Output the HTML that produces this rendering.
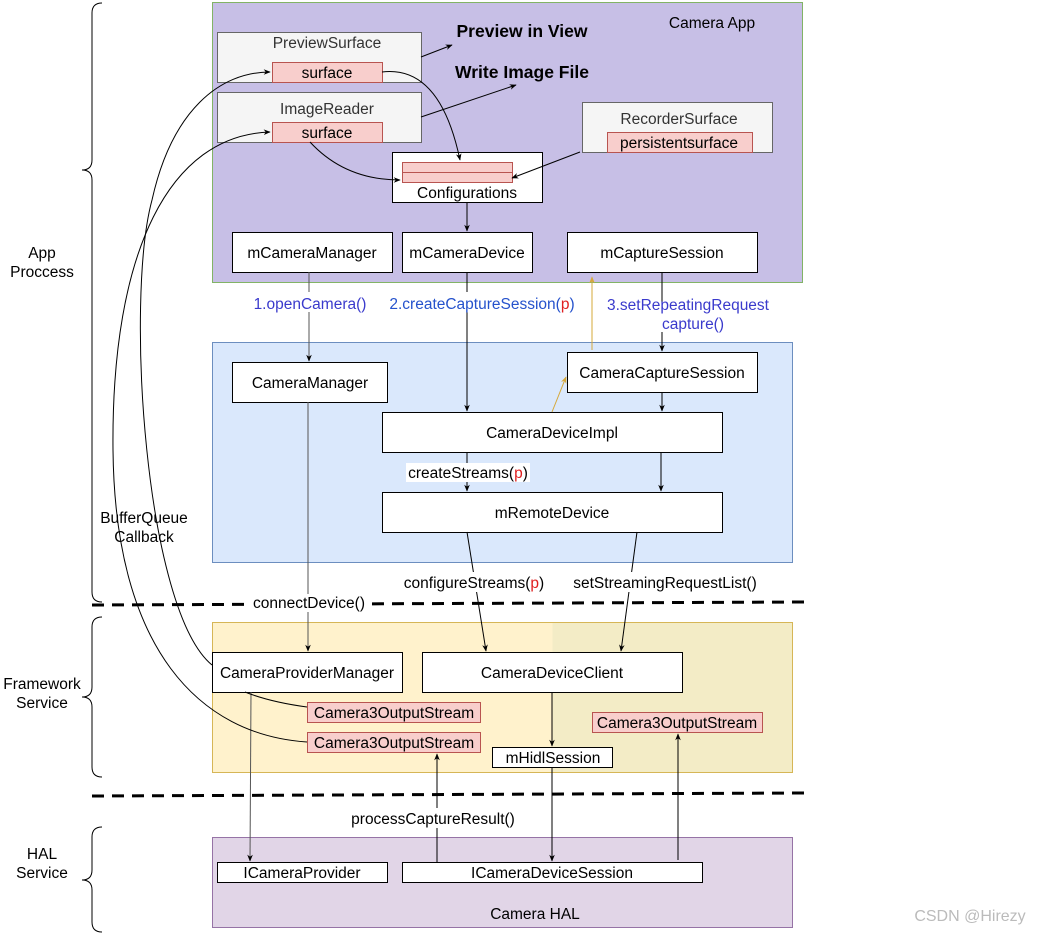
<!DOCTYPE html>
<html><head><meta charset="utf-8"><style>
html,body{margin:0;padding:0;background:#fff;}
svg{display:block;font-family:"Liberation Sans",Arial,sans-serif;}
</style></head><body>
<svg width="1037" height="935" viewBox="0 0 1037 935" xmlns="http://www.w3.org/2000/svg">
<defs>
<marker id="a" viewBox="0 0 10 10" refX="9" refY="5" markerWidth="7" markerHeight="7" orient="auto"><path d="M0,1 L10,5 L0,9 L3,5 z" fill="#000"/></marker>
<marker id="y" viewBox="0 0 10 10" refX="9" refY="5" markerWidth="7" markerHeight="7" orient="auto"><path d="M0,1 L10,5 L0,9 L3,5 z" fill="#d6a83a"/></marker>
</defs>
<g font-size="15.5" text-anchor="middle">
<rect x="212.5" y="2.5" width="590" height="280" fill="#c7bfe6" stroke="#82b366"/>
<text x="712" y="28" fill="#000">Camera App</text>
<rect x="217.5" y="32.5" width="204" height="50" fill="#f5f5f5" stroke="#666"/>
<text x="327" y="48" fill="#333">PreviewSurface</text>
<rect x="272.5" y="62.5" width="110" height="20" fill="#f8cecc" stroke="#b85450"/>
<text x="327" y="78">surface</text>
<rect x="217.5" y="92.5" width="204" height="50" fill="#f5f5f5" stroke="#666"/>
<text x="327" y="114" fill="#333">ImageReader</text>
<rect x="272.5" y="122.5" width="110" height="20" fill="#f8cecc" stroke="#b85450"/>
<text x="327" y="138">surface</text>
<rect x="582.5" y="102.5" width="190" height="50" fill="#f5f5f5" stroke="#666"/>
<text x="679" y="124" fill="#333">RecorderSurface</text>
<rect x="607.5" y="132.5" width="145" height="20" fill="#f8cecc" stroke="#b85450"/>
<text x="679" y="148">persistentsurface</text>
<text x="522" y="37" font-weight="bold" font-size="17.5">Preview in View</text>
<text x="522" y="78" font-weight="bold" font-size="17.5">Write Image File</text>
<rect x="392.5" y="152.5" width="150" height="50" fill="#fff" stroke="#000"/>
<rect x="402.5" y="162.5" width="110" height="10" fill="#f8cecc" stroke="#b85450"/>
<rect x="402.5" y="172.5" width="110" height="10" fill="#f8cecc" stroke="#b85450"/>
<text x="467" y="198">Configurations</text>
<rect x="232.5" y="232.5" width="160" height="40" fill="#fff" stroke="#000"/>
<text x="312" y="258">mCameraManager</text>
<rect x="402.5" y="232.5" width="130" height="40" fill="#fff" stroke="#000"/>
<text x="467" y="258">mCameraDevice</text>
<rect x="567.5" y="232.5" width="190" height="40" fill="#fff" stroke="#000"/>
<text x="662" y="258">mCaptureSession</text>

<rect x="212.5" y="342.5" width="580" height="220" fill="#dae8fc" stroke="#6c8ebf"/>
<rect x="232.5" y="362.5" width="155" height="40" fill="#fff" stroke="#000"/>
<text x="310" y="388">CameraManager</text>
<rect x="567.5" y="352.5" width="190" height="40" fill="#fff" stroke="#000"/>
<text x="662" y="378">CameraCaptureSession</text>
<rect x="382.5" y="412.5" width="340" height="40" fill="#fff" stroke="#000"/>
<text x="552" y="438">CameraDeviceImpl</text>
<rect x="382.5" y="492.5" width="340" height="40" fill="#fff" stroke="#000"/>
<text x="552" y="518">mRemoteDevice</text>

<rect x="212.5" y="622.5" width="340" height="150" fill="#fff2cc" stroke="none"/>
<rect x="552.5" y="622.5" width="240" height="150" fill="#f3ecc6" stroke="none"/>
<rect x="212.5" y="622.5" width="580" height="150" fill="none" stroke="#d6b656"/>
<rect x="212.5" y="652.5" width="190" height="40" fill="#fff" stroke="#000"/>
<text x="307" y="678">CameraProviderManager</text>
<rect x="422.5" y="652.5" width="260" height="40" fill="#fff" stroke="#000"/>
<text x="552" y="678">CameraDeviceClient</text>
<rect x="307.5" y="702.5" width="173" height="20" fill="#f8cecc" stroke="#b85450"/>
<text x="394" y="718">Camera3OutputStream</text>
<rect x="307.5" y="732.5" width="173" height="20" fill="#f8cecc" stroke="#b85450"/>
<text x="394" y="748">Camera3OutputStream</text>
<rect x="592.5" y="712.5" width="170" height="20" fill="#f8cecc" stroke="#b85450"/>
<text x="677" y="728">Camera3OutputStream</text>
<rect x="492.5" y="747.5" width="120" height="20" fill="#fff" stroke="#000"/>
<text x="553" y="763">mHidlSession</text>

<rect x="212.5" y="837.5" width="580" height="90" fill="#e1d5e7" stroke="#9673a6"/>
<rect x="217.5" y="862.5" width="170" height="20" fill="#fff" stroke="#000"/>
<text x="302" y="878">ICameraProvider</text>
<rect x="402.5" y="862.5" width="300" height="20" fill="#fff" stroke="#000"/>
<text x="552" y="878">ICameraDeviceSession</text>
<text x="535" y="919">Camera HAL</text>

<line x1="92" y1="605" x2="805" y2="602" stroke="#000" stroke-width="3" stroke-dasharray="12,8"/>
<line x1="92" y1="796" x2="805" y2="793" stroke="#000" stroke-width="3" stroke-dasharray="12,8"/>

<g fill="none" stroke="#000" stroke-width="1">
<path d="M102,3 Q92,3 92,13 L92,160 Q92,170 82,170 Q92,170 92,180 L92,592 Q92,602 102,602"/>
<path d="M102,617 Q92,617 92,627 L92,687 Q92,697 82,697 Q92,697 92,707 L92,767 Q92,777 102,777"/>
<path d="M102,827 Q92,827 92,837 L92,870 Q92,880 82,880 Q92,880 92,890 L92,922 Q92,932 102,932"/>
</g>
<text x="42" y="258">App</text><text x="42" y="277">Proccess</text>
<text x="42" y="689">Framework</text><text x="42" y="708">Service</text>
<text x="42" y="859">HAL</text><text x="42" y="878">Service</text>
<text x="144" y="523">BufferQueue</text><text x="144" y="542">Callback</text>

<g fill="none" stroke="#000" stroke-width="1">
<line x1="421" y1="57" x2="452" y2="45" marker-end="url(#a)"/>
<line x1="421" y1="117" x2="516" y2="85" marker-end="url(#a)"/>
<path d="M382,72 Q440,65 460,160" marker-end="url(#a)"/>
<path d="M310,142 Q345,180 400,180" marker-end="url(#a)"/>
<path d="M580,152 L512,178" marker-end="url(#a)"/>
<line x1="467" y1="202" x2="467" y2="231" marker-end="url(#a)"/>
<line x1="309" y1="272" x2="309" y2="361" stroke="#555" marker-end="url(#a)"/>
<line x1="467" y1="272" x2="467" y2="411" marker-end="url(#a)"/>
<line x1="662" y1="272" x2="662" y2="351" marker-end="url(#a)"/>
<line x1="662" y1="392" x2="662" y2="411" marker-end="url(#a)"/>
<line x1="467" y1="452" x2="467" y2="491" marker-end="url(#a)"/>
<line x1="661" y1="452" x2="661" y2="491" marker-end="url(#a)"/>
<line x1="308" y1="402" x2="308" y2="651" stroke="#555" marker-end="url(#a)"/>
<line x1="467" y1="532" x2="486" y2="651" marker-end="url(#a)"/>
<line x1="637" y1="532" x2="621" y2="651" marker-end="url(#a)"/>
<line x1="552" y1="692" x2="552" y2="746" marker-end="url(#a)"/>
<line x1="552" y1="767" x2="552" y2="861" marker-end="url(#a)"/>
<line x1="437" y1="862" x2="437" y2="754" marker-end="url(#a)"/>
<line x1="678" y1="860" x2="678" y2="734" marker-end="url(#a)"/>
<line x1="251" y1="692" x2="250" y2="861" stroke="#555" marker-end="url(#a)"/>
<path d="M245,692 Q270,702 307,707"/>
<path d="M212,665 C145,610 125,300 152,200 C172,110 220,72 270,72" marker-end="url(#a)"/>
<path d="M307,742 C200,735 115,650 113,450 C111,250 170,135 270,132" marker-end="url(#a)"/>
</g>
<line x1="592" y1="350" x2="592" y2="277" stroke="#d6a83a" marker-end="url(#y)"/>
<line x1="552" y1="412" x2="566" y2="377" stroke="#d6a83a" marker-end="url(#y)"/>

<rect x="248" y="292" width="124" height="20" fill="#fff"/>
<text x="310" y="309" fill="#3a3acc">1.openCamera()</text>
<rect x="385" y="292" width="194" height="20" fill="#fff"/>
<text x="482" y="309" fill="#2552cc">2.createCaptureSession(<tspan fill="#e02020">p</tspan>)</text>
<rect x="604" y="294" width="52" height="38" fill="#fff"/>
<rect x="668" y="294" width="106" height="38" fill="#fff"/>
<rect x="656" y="312" width="12" height="20" fill="#fff"/>
<text x="688" y="310" fill="#3a3acc">3.setRepeatingRequest</text>
<text x="693" y="329" fill="#3a3acc">capture()</text>
<rect x="406" y="463" width="124" height="19" fill="#fff"/>
<text x="468" y="478">createStreams(<tspan fill="#e02020">p</tspan>)</text>
<rect x="400" y="572" width="150" height="20" fill="#fff"/>
<text x="474" y="588">configureStreams(<tspan fill="#e02020">p</tspan>)</text>
<rect x="568" y="572" width="194" height="20" fill="#fff"/>
<text x="665" y="588">setStreamingRequestList()</text>
<rect x="250" y="594" width="118" height="18" fill="#fff"/>
<text x="309" y="608">connectDevice()</text>
<rect x="346" y="808" width="174" height="20" fill="#fff"/>
<text x="433" y="824">processCaptureResult()</text>
<text x="970" y="921" fill="#bbb" font-size="16">CSDN @Hirezy</text>
</g>
</svg>
</body></html>
